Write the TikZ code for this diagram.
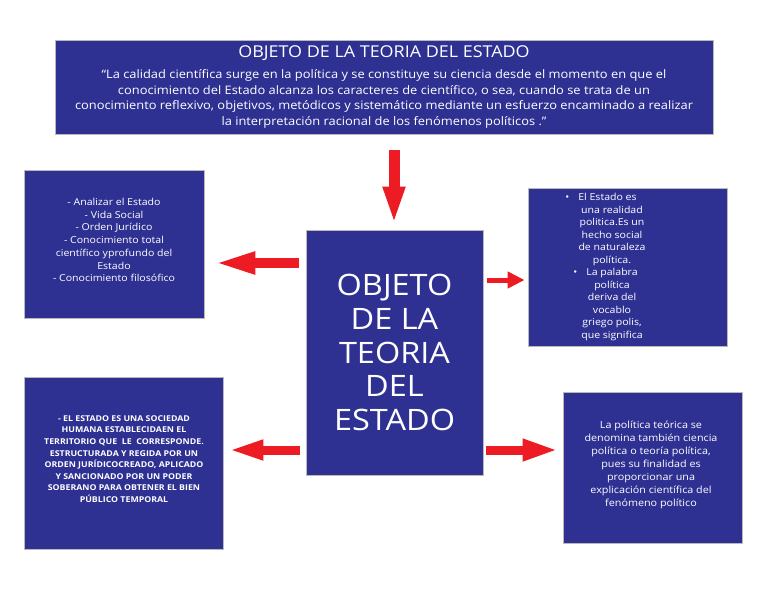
\documentclass[tikz,border=0pt]{standalone}
\usepackage{fontspec}
\setmainfont[FakeStretch=1.1]{Open Sans}
\usetikzlibrary{arrows.meta}
\definecolor{boxblue}{RGB}{46,49,146}
\definecolor{arrred}{RGB}{237,28,36}
\begin{document}
\begin{tikzpicture}[x=1pt,y=-1pt,
  box/.style={fill=boxblue, draw=gray!55, line width=0.8pt, text=white, align=center, inner sep=0pt, anchor=center},
  txt/.style={text=white, align=center, inner sep=0pt},
  bigarrow/.style={draw=arrred, line width=#1, line cap=butt}
]
\useasboundingbox[fill=white] (0,0) rectangle (768,589);

% boxes
\node[box, minimum width=658pt, minimum height=94pt] (top) at (384,87) {};
\node[txt, font=\fontsize{16.3}{19}\selectfont] (title) at (384,53.5) {OBJETO DE LA TEORIA DEL ESTADO};
\node[txt, font=\fontsize{11.7}{15.6}\selectfont] (quote) at (384,99) {%
“La calidad científica surge en la política y se constituye su ciencia desde el momento en que el\\
conocimiento del Estado alcanza los caracteres de científico, o sea, cuando se trata de un\\
conocimiento reflexivo, objetivos, metódicos y sistemático mediante un esfuerzo encaminado a realizar\\
la interpretación racional de los fenómenos políticos .”};

\node[box, minimum width=177pt, minimum height=245pt, font=\fontsize{29.5}{33.8}\selectfont] (center) at (394.5,352.5)
  {OBJETO\\DE LA\\TEORIA\\DEL\\ESTADO};

\node[box, minimum width=180pt, minimum height=148pt] (lt) at (114,244) {};
\node[txt, font=\fontsize{9.6}{12.7}\selectfont] (lttext) at (114,240) {%
- Analizar el Estado\\
- Vida Social\\
- Orden Jurídico\\
- Conocimiento total\\
científico yprofundo del\\
Estado\\
- Conocimiento filosófico};

\node[box, minimum width=199pt, minimum height=158pt] (rt) at (627.5,267) {};
\node[txt, font=\fontsize{9.6}{12.5}\selectfont] (rttext) at (612,267) {%
\llap{\textbullet\hspace{9pt}}El Estado es\hspace*{9pt}\\
una realidad\\
politica.Es un\\
hecho social\\
de naturaleza\\
política.\\
\llap{\textbullet\hspace{9pt}}La palabra\hspace*{12pt}\\
política\\
deriva del\\
vocablo\\
griego polis,\\
que significa};

\node[box, minimum width=199pt, minimum height=172pt] (lb) at (123.5,463) {};
\node[txt, font=\bfseries\fontsize{8.0}{11.6}\selectfont] (lbtext) at (124,459) {%
- EL ESTADO ES UNA SOCIEDAD\\
HUMANA ESTABLECIDAEN EL\\
TERRITORIO QUE\ \ LE\ \ CORRESPONDE.\\
ESTRUCTURADA Y REGIDA POR UN\\
ORDEN JURÍDICOCREADO, APLICADO\\
Y SANCIONADO POR UN PODER\\
SOBERANO PARA OBTENER EL BIEN\\
PÚBLICO TEMPORAL};

\node[box, minimum width=179pt, minimum height=151pt] (rb) at (652.5,467.5) {};
\node[txt, font=\fontsize{9.8}{13}\selectfont] (rbtext) at (651,465) {%
La política teórica se\\
denomina también ciencia\\
política o teoría política,\\
pues su finalidad es\\
proporcionar una\\
explicación científica del\\
fenómeno político};

% arrows
\draw[bigarrow=11pt, -{Triangle[length=38pt, width=20pt]}, shorten <=16pt, shorten >=5pt]
  (top.south -| 394,0) -- (center.north -| 394,0);
\draw[bigarrow=10pt, -{Triangle[length=42pt, width=20pt]}, shorten <=7pt, shorten >=9pt]
  (center.west |- 0,263) -- (lt.east |- 0,263);
\draw[bigarrow=5pt, -{Triangle[length=17pt, width=16pt]}, shorten <=4pt, shorten >=3pt]
  (center.east |- 0,280) -- (rt.west |- 0,280);
\draw[bigarrow=9pt, -{Triangle[length=36pt, width=18pt]}, shorten <=6pt, shorten >=4pt]
  (center.west |- 0,450) -- (lb.east |- 0,450);
\draw[bigarrow=9pt, -{Triangle[length=36pt, width=20pt]}, shorten <=3pt, shorten >=4pt]
  (center.east |- 0,450) -- (rb.west |- 0,450);
\end{tikzpicture}
\end{document}
